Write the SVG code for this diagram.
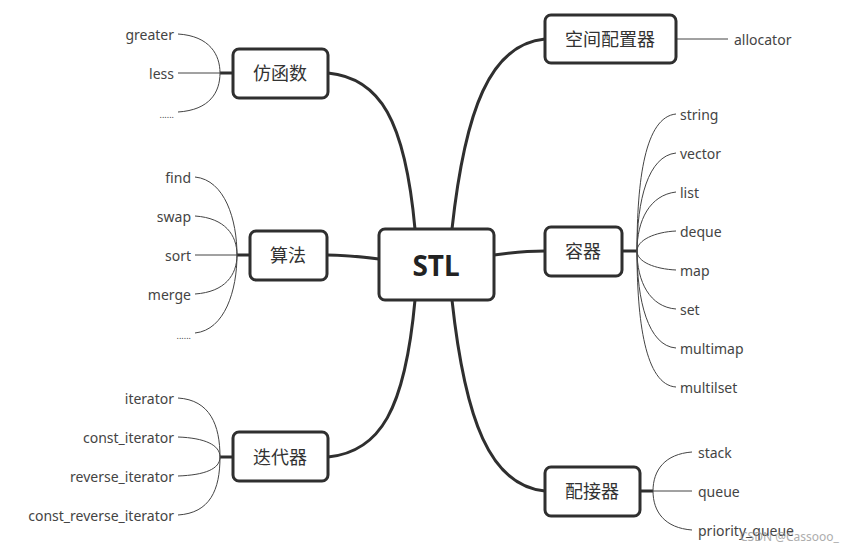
<svg xmlns="http://www.w3.org/2000/svg" width="867" height="554" viewBox="0 0 867 554">
<style>
.n{fill:#fff;stroke:#2f2f2f;stroke-width:3}
.t{font-family:"Noto Sans","Noto Sans CJK SC",sans-serif;font-size:18px;fill:#333;text-anchor:middle;dominant-baseline:central}
.l{font-family:"Noto Sans","Noto Sans CJK SC",sans-serif;font-size:14px;fill:#444;dominant-baseline:central}
.r{text-anchor:end}
.m{fill:none;stroke:#2f2f2f;stroke-width:3}
.b{fill:none;stroke:#444;stroke-width:1}
</style>
<rect width="867" height="554" fill="#fff"/>
<g id="connectors">
<path class="m" d="M415,229 C405,120 380,78 328,73"/>
<path class="m" d="M452,229 C465,110 490,44 545,39"/>
<path class="m" d="M379,259 C355,256 345,255 327,255"/>
<path class="m" d="M494,255 C515,252 525,251 545,251"/>
<path class="m" d="M415,300 C405,410 380,452 328,457"/>
<path class="m" d="M452,300 C465,420 490,486 545,491"/>
<path class="m" d="M233,73 H220 M327,255 H237 M233,457 H220 M622,251 H637 M640,491 H653"/>
<path class="b" d="M178,34 C210,36 220,55 220,73 C220,92 210,110 178,112 M178,73 H220"/>
<path class="b" d="M195,177 C225,180 237,220 237,255 C237,290 225,330 195,333 M195,216 C225,218 237,235 237,255 C237,275 225,292 195,294 M195,255 H237"/>
<path class="b" d="M178,398 C210,400 220,425 220,457 C220,490 210,513 178,515 M178,437 C205,438 220,445 220,457 C220,469 205,475 178,476"/>
<path class="b" d="M676,39 H728"/>
<path class="b" d="M676,114 C645,117 637,180 637,251 C637,320 645,385 676,387 M676,153 C648,156 637,200 637,251 C637,300 648,346 676,348 M676,192 C650,195 637,220 637,251 C637,282 650,307 676,309 M676,231 C655,232 637,240 637,251 C637,262 655,269 676,270"/>
<path class="b" d="M692,452 C665,454 653,470 653,491 C653,512 665,528 692,530 M653,491 H692"/>
</g>
<g id="stl"><rect class="n" x="379" y="229" width="115" height="71" rx="6"/><text class="t" x="436" y="265" style="font-size:28px;font-weight:bold;fill:#222">STL</text></g>
<g id="fanghanshu"><rect class="n" x="233" y="49" width="95" height="49" rx="6"/><text class="t" x="280" y="73">仿函数</text></g>
<g id="suanfa"><rect class="n" x="250" y="231" width="77" height="49" rx="6"/><text class="t" x="288" y="255">算法</text></g>
<g id="diedaiqi"><rect class="n" x="233" y="432" width="95" height="49" rx="6"/><text class="t" x="280" y="457">迭代器</text></g>
<g id="kongjian"><rect class="n" x="545" y="15" width="131" height="48" rx="6"/><text class="t" x="610" y="39">空间配置器</text></g>
<g id="rongqi"><rect class="n" x="545" y="227" width="77" height="49" rx="6"/><text class="t" x="583" y="251">容器</text></g>
<g id="peijieqi"><rect class="n" x="545" y="467" width="95" height="49" rx="6"/><text class="t" x="592" y="491">配接器</text></g>
<g id="leaves">
<text class="l r" x="174" y="34">greater</text>
<text class="l r" x="174" y="73">less</text>
<text class="l r" x="174" y="114" style="font-size:9px">......</text>
<text class="l r" x="191" y="177">find</text>
<text class="l r" x="191" y="216">swap</text>
<text class="l r" x="191" y="255">sort</text>
<text class="l r" x="191" y="294">merge</text>
<text class="l r" x="191" y="335" style="font-size:9px">......</text>
<text class="l r" x="174" y="398">iterator</text>
<text class="l r" x="174" y="437">const_iterator</text>
<text class="l r" x="174" y="476">reverse_iterator</text>
<text class="l r" x="174" y="515">const_reverse_iterator</text>
<text class="l" x="734" y="39">allocator</text>
<text class="l" x="680" y="114">string</text>
<text class="l" x="680" y="153">vector</text>
<text class="l" x="680" y="192">list</text>
<text class="l" x="680" y="231">deque</text>
<text class="l" x="680" y="270">map</text>
<text class="l" x="680" y="309">set</text>
<text class="l" x="680" y="348">multimap</text>
<text class="l" x="680" y="387">multilset</text>
<text class="l" x="698" y="452">stack</text>
<text class="l" x="698" y="491">queue</text>
<text class="l" x="698" y="530">priority_queue</text>
</g>
<text x="740" y="541" style="font-family:'Noto Sans',sans-serif;font-size:12px;fill:#999;opacity:0.8">CSDN @Cassooo_</text>
</svg>
